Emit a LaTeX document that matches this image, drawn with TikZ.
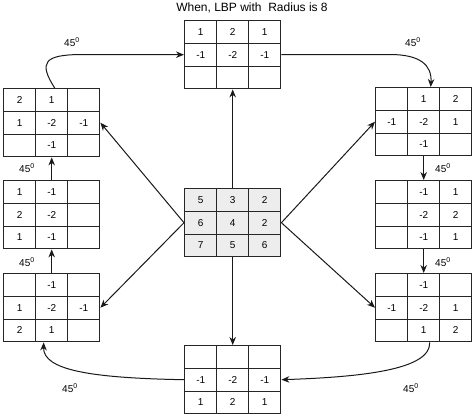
\documentclass[tikz,border=0pt]{standalone}
\usepackage{fontspec}
\setmainfont{Liberation Sans}
\usetikzlibrary{matrix,arrows.meta,calc}
\begin{document}
\begin{tikzpicture}[x=1pt,y=-1pt,
  cell/.style={draw=black!85, line width=1pt, minimum width=32pt, minimum height=22.67pt, inner sep=0pt, anchor=center, text height=7pt, text depth=0pt, font=\fontsize{10}{10}\selectfont},
  gridm/.style={matrix of nodes, nodes in empty cells, column sep=-1pt, row sep=-1pt, inner sep=0pt, nodes={cell}, anchor=north west},
  arr/.style={-{Stealth[length=8pt,width=6.5pt]}, line width=1pt, black!90},
  lbl/.style={font=\fontsize{10}{10}\selectfont}
]
\useasboundingbox (0,0) rectangle (474,416);

\node[font=\fontsize{12}{12}\selectfont] (title) at (252,8) {When, LBP with~ Radius is 8};

\matrix[gridm] (T) at (184,20) {1 & 2 & 1\\ -1 & -2 & -1\\ & & \\};
\matrix[gridm, nodes={fill=black!7}] (C) at (184,188) {5 & 3 & 2\\ 6 & 4 & 2\\ 7 & 5 & 6\\};
\matrix[gridm] (B) at (184,345) { & & \\ -1 & -2 & -1\\ 1 & 2 & 1\\};
\matrix[gridm] (LT) at (3,88) {2 & 1 & \\ 1 & -2 & -1\\ & -1 & \\};
\matrix[gridm] (LM) at (3,180) {1 & -1 & \\ 2 & -2 & \\ 1 & -1 & \\};
\matrix[gridm] (LB) at (3,273) { & -1 & \\ 1 & -2 & -1\\ 2 & 1 & \\};
\matrix[gridm] (RT) at (375,87) { & 1 & 2\\ -1 & -2 & 1\\ & -1 & \\};
\matrix[gridm] (RM) at (375,180) { & -1 & 1\\ & -2 & 2\\ & -1 & 1\\};
\matrix[gridm] (RB) at (375,273) { & -1 & \\ -1 & -2 & 1\\ & 1 & 2\\};

% straight arrows from centre
\draw[arr] (C.north) -- (T.south);
\draw[arr] (C.south) -- (B.north);
\draw[arr] (C.west) -- (LT.east);
\draw[arr] (C.west) -- (LB.east);
\draw[arr] (C.east) -- (RT.west);
\draw[arr] (C.east) -- (RB.west);

% vertical arrows
\draw[arr] (RT.south) -- (RM.north);
\draw[arr] (RM.south) -- (RB.north);
\draw[arr] (LB.north) -- (LM.south);
\draw[arr] (LM.north) -- (LT.south);

% curved arrows
\coordinate (ltn) at ($(LT.north)+(3pt,0)$);
\draw[arr] (ltn) .. controls (38,62) and (45,55) .. (80,54.5) -- (T.west);
\coordinate (rtn) at ($(RT.north)+(7pt,0)$);
\draw[arr] (T.east) -- (390,54.5) .. controls (420,54.5) and (432,65) .. (rtn);
\coordinate (rbs) at ($(RB.south)+(6pt,0)$);
\draw[arr] (rbs) .. controls (431,370) and (360,377) .. (B.east);
\coordinate (lbs) at ($(LB.south)+(-8pt,0)$);
\draw[arr] (B.west) .. controls (90,378) and (43,370) .. (lbs);

% labels
\node[lbl] (l1) at (72,42) {45\textsuperscript{0}};
\node[lbl] (l2) at (413,42) {45\textsuperscript{0}};
\node[lbl] (l3) at (27,168) {45\textsuperscript{0}};
\node[lbl] (l4) at (27,262) {45\textsuperscript{0}};
\node[lbl] (l5) at (443,168) {45\textsuperscript{0}};
\node[lbl] (l6) at (443,262) {45\textsuperscript{0}};
\node[lbl] (l7) at (70,388) {45\textsuperscript{0}};
\node[lbl] (l8) at (411,388) {45\textsuperscript{0}};
\end{tikzpicture}
\end{document}
